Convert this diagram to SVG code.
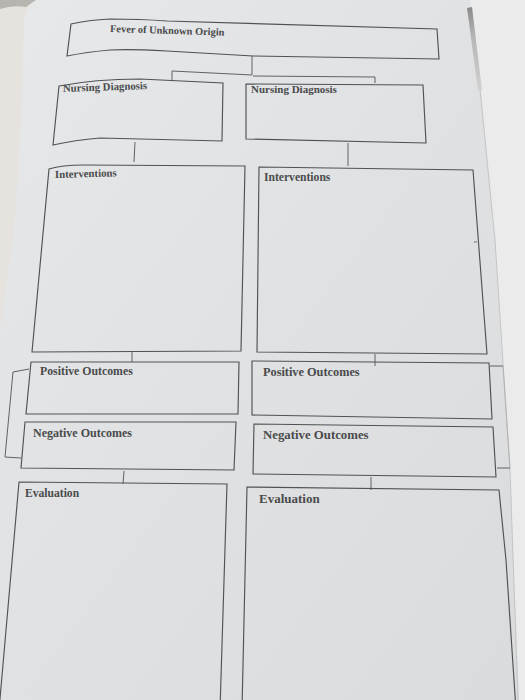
<svg xmlns="http://www.w3.org/2000/svg" width="525" height="700" viewBox="0 0 525 700">
  <defs>
    <linearGradient id="paper" x1="0" y1="0" x2="1" y2="1">
      <stop offset="0" stop-color="#e6e8e9"/>
      <stop offset="0.5" stop-color="#dfe1e2"/>
      <stop offset="1" stop-color="#d9dbdc"/>
    </linearGradient>
    <linearGradient id="shadow" x1="0" y1="0" x2="0" y2="1">
      <stop offset="0" stop-color="#8a8a8a"/>
      <stop offset="0.35" stop-color="#b5b5b5"/>
      <stop offset="1" stop-color="#d0d0d0"/>
    </linearGradient>
    <style>
      .box { fill: none; stroke: #505254; stroke-width: 1.15; stroke-linejoin: miter; }
      .conn { fill: none; stroke: #606264; stroke-width: 1; }
      .lbl { font-family: "Liberation Serif", "Times New Roman", serif; font-weight: bold; fill: #4a4b4c; }
    </style>
  </defs>

  <!-- photo background -->
  <rect x="0" y="0" width="525" height="700" fill="url(#paper)"/>
  <path d="M0,0 L34,0 Q26,8 24,20 L21,120 L14,230 L0,330 Z" fill="#e6e2de"/>
  <path d="M0,0 L36,0 Q30,4 26,7 Q12,5 0,9 Z" fill="#b8b4b0"/>
  <path d="M470,0 L525,0 L525,700 L519,700 L510,470 L495,240 L480,80 Z" fill="#ebebeb"/>
  <path d="M467,8 L472,7 L482,90 L478,90 Z" fill="url(#shadow)"/>
  <path d="M480,90 L495,240 L510,470 L518,700" fill="none" stroke="#c4c5c6" stroke-width="1"/>

  <!-- connectors -->
  <g id="connectors">
    <path class="conn" d="M252,56 L252,75 M172,80 L172,71 L252,75 M253,76 L375,77 L375,83"/>
    <path class="conn" d="M135,142 L134,162"/>
    <path class="conn" d="M348,143 L348,166"/>
    <path class="conn" d="M132,352 L132,362"/>
    <path class="conn" d="M375,354 L375,366"/>
    <path class="conn" d="M124,471 L123,484"/>
    <path class="conn" d="M371,477 L371,490"/>
    <path class="conn" d="M29,369 L13,372 L5,457 L21,458"/>
    <path class="conn" d="M490,366 L503,366 M497,468 L510,468"/>
    <path d="M503,366 L510,468" fill="none" stroke="#a9abac" stroke-width="0.8"/>
  </g>

  <!-- nodes -->
  <g id="title">
    <path class="box" d="M71,24 Q88,20 110,19 Q140,19 167,21 L437,29 L439,59 L253,56 L167,51 Q130,49 110,50 Q87,52 67,56 Z"/>
    <text class="lbl" x="110" y="32" font-size="10.4" fill="#3c3d3e" transform="rotate(1.8 110 32)">Fever of Unknown Origin</text>
  </g>

  <g id="nd-left">
    <path class="box" d="M59,86 Q95,79 140,79 L223,83 L222,141 L100,138 Q75,140 53,145 Z"/>
    <text class="lbl" x="63" y="92" font-size="10.8" transform="rotate(-2 63 92)">Nursing Diagnosis</text>
  </g>

  <g id="nd-right">
    <path class="box" d="M246,84 L423,85 L426,143 L246,139 Z"/>
    <text class="lbl" x="251" y="93" font-size="11">Nursing Diagnosis</text>
  </g>

  <g id="int-left">
    <path class="box" d="M49,169 Q62,165 83,165 L245,166 L241,351 L32,352 Z"/>
    <text class="lbl" x="55" y="178" font-size="10.8" transform="rotate(-1.5 55 178)">Interventions</text>
  </g>

  <g id="int-right">
    <path class="box" d="M259,167 L473,170 L487,354 L257,352 Z"/>
    <text class="lbl" x="264" y="181" font-size="11.6">Interventions</text>
    <path d="M474,242 L477,242" stroke="#707070" stroke-width="1"/>
  </g>

  <g id="pos-left">
    <path class="box" d="M31,362 L239,362 L238,414 L26,414 Z"/>
    <text class="lbl" x="40" y="375" font-size="11.8">Positive Outcomes</text>
  </g>

  <g id="pos-right">
    <path class="box" d="M252,361 L489,363 L492,419 L252,415 Z"/>
    <text class="lbl" x="263" y="376" font-size="12.3">Positive Outcomes</text>
  </g>

  <g id="neg-left">
    <path class="box" d="M25,422 L236,422 L234,470 L21,468 Z"/>
    <text class="lbl" x="33" y="437" font-size="12">Negative Outcomes</text>
  </g>

  <g id="neg-right">
    <path class="box" d="M254,424 L493,427 L496,477 L253,474 Z"/>
    <text class="lbl" x="263" y="439" font-size="12.8">Negative Outcomes</text>
  </g>

  <g id="eval-left">
    <path class="box" d="M-1,710 L19,482 L227,484 L220,710"/>
    <text class="lbl" x="25" y="497" font-size="11.6">Evaluation</text>
  </g>

  <g id="eval-right">
    <path class="box" d="M242,710 L247,487 L499,490 Q504,540 506,560 L516,710"/>
    <text class="lbl" x="259" y="503" font-size="13">Evaluation</text>
  </g>
</svg>
